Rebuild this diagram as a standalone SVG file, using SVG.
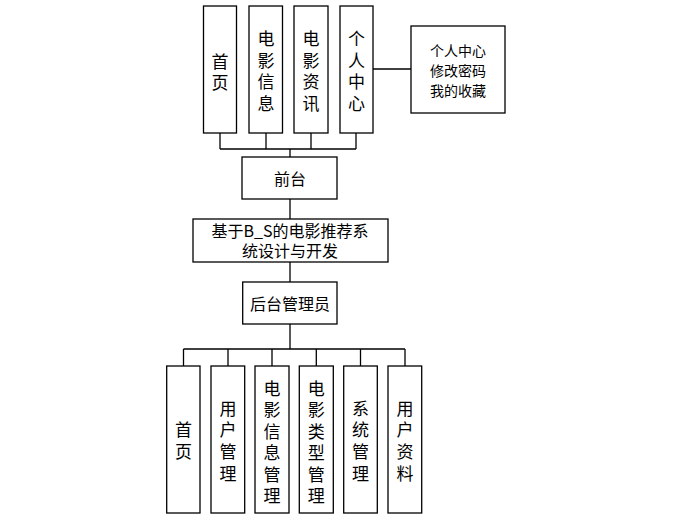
<svg xmlns="http://www.w3.org/2000/svg" width="679" height="522" viewBox="0 0 679 522">
<style>
rect{fill:#fff;stroke:#000;stroke-width:1.3}
.c line{stroke:#000;stroke-width:1.3}
text{font-family:"Noto Sans CJK SC","Liberation Sans",sans-serif;font-size:17px;fill:#000;text-anchor:middle;dominant-baseline:central}
.s{font-size:14px}
.m{font-size:16px}
</style>
<rect width="679" height="522" style="fill:#fff;stroke:none"/>
<g class="c">
<line x1="220" y1="133" x2="220" y2="149"/><line x1="266" y1="133" x2="266" y2="149"/>
<line x1="311" y1="133" x2="311" y2="149"/><line x1="356" y1="133" x2="356" y2="149"/>
<line x1="220" y1="149" x2="356" y2="149"/><line x1="290" y1="149" x2="290" y2="157"/>
<line x1="373" y1="69" x2="411" y2="69"/>
<line x1="290" y1="199" x2="290" y2="219"/><line x1="290" y1="262" x2="290" y2="282"/>
<line x1="290" y1="324" x2="290" y2="349"/><line x1="183.5" y1="349" x2="405" y2="349"/>
<line x1="183.5" y1="349" x2="183.5" y2="366"/><line x1="228" y1="349" x2="228" y2="366"/>
<line x1="272" y1="349" x2="272" y2="366"/><line x1="316.3" y1="349" x2="316.3" y2="366"/>
<line x1="360.5" y1="349" x2="360.5" y2="366"/><line x1="405" y1="349" x2="405" y2="366"/>
</g>
<g id="n1"><rect x="203.5" y="6" width="33" height="127"/><text x="220"><tspan x="220" y="60">首</tspan><tspan x="220" y="81">页</tspan></text></g>
<g id="n2"><rect x="249" y="6" width="33.5" height="127"/><text><tspan x="266" y="37">电</tspan><tspan x="266" y="59">影</tspan><tspan x="266" y="80">信</tspan><tspan x="266" y="102">息</tspan></text></g>
<g id="n3"><rect x="294" y="6" width="34" height="127"/><text><tspan x="311" y="37">电</tspan><tspan x="311" y="59">影</tspan><tspan x="311" y="80">资</tspan><tspan x="311" y="102">讯</tspan></text></g>
<g id="n4"><rect x="340" y="6" width="33" height="127"/><text><tspan x="356.5" y="37">个</tspan><tspan x="356.5" y="59">人</tspan><tspan x="356.5" y="80">中</tspan><tspan x="356.5" y="102">心</tspan></text></g>
<g id="n5"><rect x="411" y="26" width="94" height="87"/><text class="s"><tspan x="458" y="50">个人中心</tspan><tspan x="458" y="70">修改密码</tspan><tspan x="458" y="90">我的收藏</tspan></text></g>
<g id="n6"><rect x="242" y="157" width="95" height="42"/><text class="m" x="290" y="178">前台</text></g>
<g id="n7"><rect x="193" y="219" width="195" height="43"/><text class="m"><tspan x="290" y="230">基于B_S的电影推荐系</tspan><tspan x="290" y="250">统设计与开发</tspan></text></g>
<g id="n8"><rect x="242.7" y="282" width="94.3" height="42"/><text class="m" x="290" y="303">后台管理员</text></g>
<g id="b1"><rect x="166.7" y="366" width="33.3" height="147"/><text><tspan x="183.5" y="428">首</tspan><tspan x="183.5" y="450">页</tspan></text></g>
<g id="b2"><rect x="211" y="366" width="33.7" height="147"/><text><tspan x="228" y="407">用</tspan><tspan x="228" y="428">户</tspan><tspan x="228" y="450">管</tspan><tspan x="228" y="472">理</tspan></text></g>
<g id="b3"><rect x="255" y="366" width="34" height="147"/><text><tspan x="272" y="387">电</tspan><tspan x="272" y="408">影</tspan><tspan x="272" y="430">信</tspan><tspan x="272" y="451">息</tspan><tspan x="272" y="473">管</tspan><tspan x="272" y="494">理</tspan></text></g>
<g id="b4"><rect x="299.3" y="366" width="34" height="147"/><text><tspan x="316.3" y="387">电</tspan><tspan x="316.3" y="408">影</tspan><tspan x="316.3" y="430">类</tspan><tspan x="316.3" y="451">型</tspan><tspan x="316.3" y="473">管</tspan><tspan x="316.3" y="494">理</tspan></text></g>
<g id="b5"><rect x="343.7" y="366" width="33.6" height="147"/><text><tspan x="360.5" y="407">系</tspan><tspan x="360.5" y="428">统</tspan><tspan x="360.5" y="450">管</tspan><tspan x="360.5" y="472">理</tspan></text></g>
<g id="b6"><rect x="388" y="366" width="33.7" height="147"/><text><tspan x="405" y="407">用</tspan><tspan x="405" y="428">户</tspan><tspan x="405" y="450">资</tspan><tspan x="405" y="472">料</tspan></text></g>
</svg>
